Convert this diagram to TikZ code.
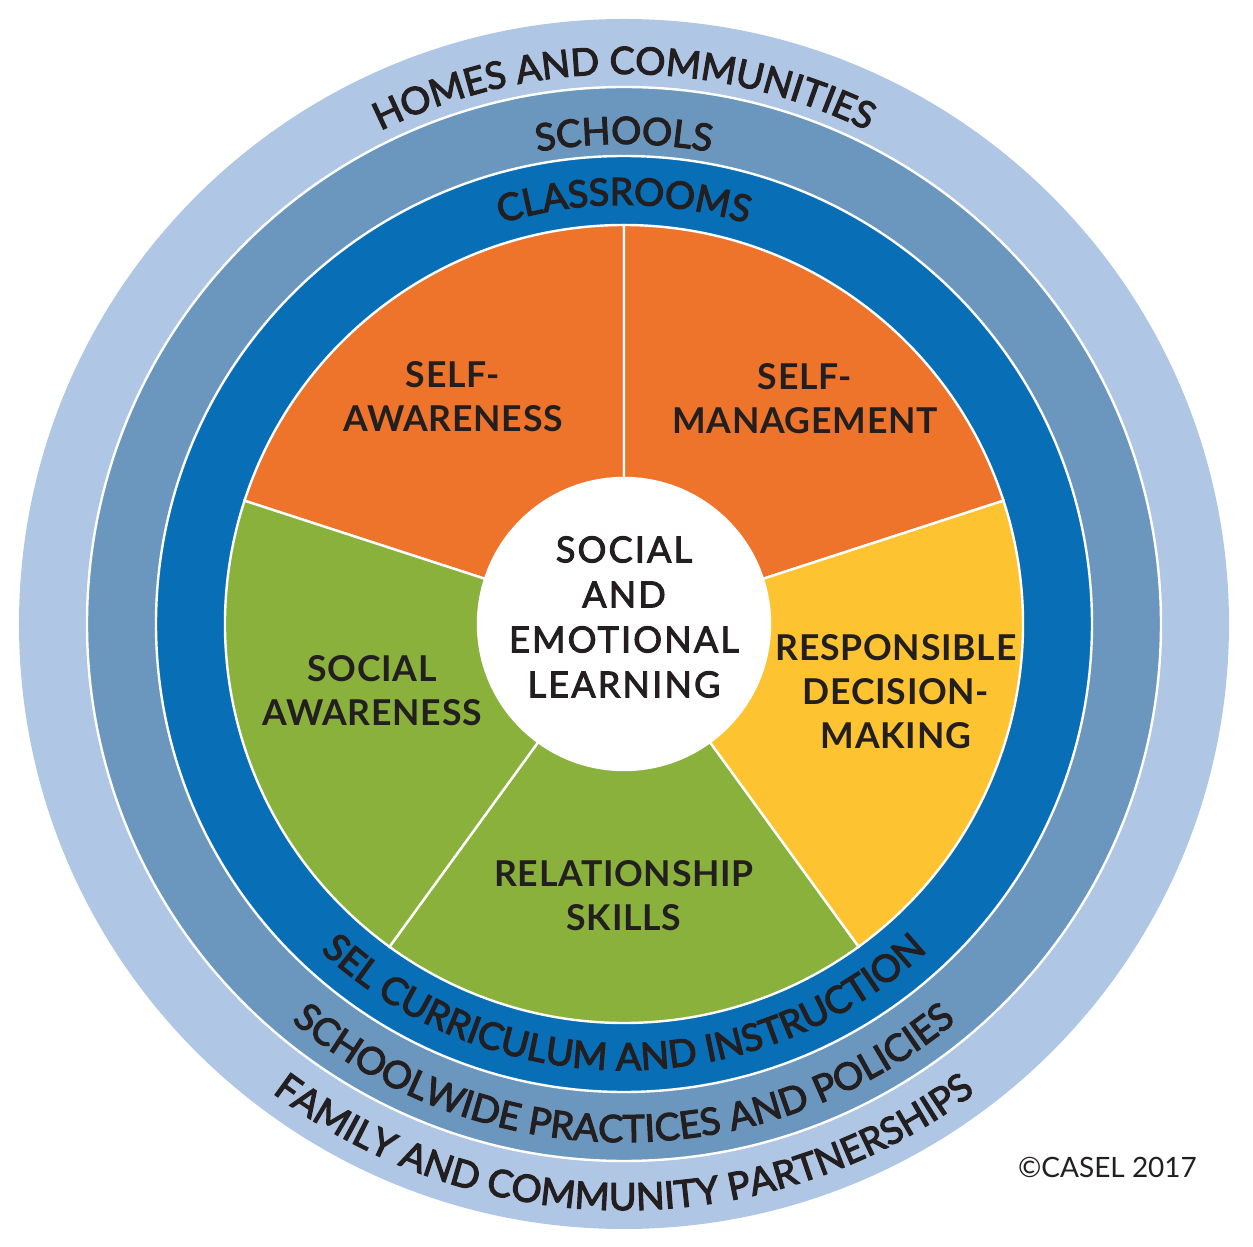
\documentclass[tikz,border=0pt]{standalone}
\usepackage{fontspec}
\setmainfont{Lato}
\newfontface\medface{Lato}[FakeBold=3]
\newfontface\midface{Lato}[FakeBold=2.6, LetterSpace=6]
\newfontface\boldface{Lato Bold}[LetterSpace=2]
\usetikzlibrary{decorations.text}
\definecolor{ringA}{HTML}{B0C6E5}
\definecolor{ringB}{HTML}{6B96BD}
\definecolor{ringC}{HTML}{086EB6}
\definecolor{orng}{HTML}{EE742C}
\definecolor{yell}{HTML}{FEC330}
\definecolor{grn}{HTML}{89B13C}
\definecolor{ink}{HTML}{231F20}
\newcommand\curvefont{\medface\fontsize{18.8}{18.8}\selectfont}
\tikzset{
  sep/.style={draw=white, line width=1.2pt},
  curvetext/.style={decorate, decoration={text along path, text align=center, text color=ink, text={|\curvefont|#1}}},
  slicelabel/.style={text=ink, align=center, font=\boldface\fontsize{17.8}{22}\selectfont},
  centerlabel/.style={text=ink, align=center, font=\midface\fontsize{18}{22.5}\selectfont},
}
\begin{document}
\begin{tikzpicture}[x=0.5pt, y=0.5pt]
\useasboundingbox (-624,-623) rectangle (629,624);
% rings
\fill[ringA] (0,0) circle[radius=605];
\filldraw[sep, fill=ringB] (0,0) circle[radius=537];
\filldraw[sep, fill=ringC] (0,0) circle[radius=468];
% slices
\filldraw[sep, fill=orng] (0,0) -- (90:399) arc[start angle=90, end angle=162, radius=399] -- cycle;
\filldraw[sep, fill=orng] (0,0) -- (18:399) arc[start angle=18, end angle=90, radius=399] -- cycle;
\filldraw[sep, fill=yell] (0,0) -- (-54:399) arc[start angle=-54, end angle=18, radius=399] -- cycle;
\filldraw[sep, fill=grn] (0,0) -- (-126:399) arc[start angle=-126, end angle=-54, radius=399] -- cycle;
\filldraw[sep, fill=grn] (0,0) -- (162:399) arc[start angle=162, end angle=234, radius=399] -- cycle;
% centre disc
\filldraw[sep, fill=white] (0,0) circle[radius=146];
% curved texts (top)
\path[curvetext={HOMES AND COMMUNITIES}] (170:550) arc[start angle=170, end angle=10, radius=550];
\path[curvetext={SCHOOLS}] (170:480) arc[start angle=170, end angle=10, radius=480];
\path[curvetext={CLASSROOMS}] (170:419) arc[start angle=170, end angle=10, radius=419];
% curved texts (bottom)
\path[curvetext={SEL CURRICULUM AND INSTRUCTION}] (200:446) arc[start angle=200, end angle=340, radius=446];
\path[curvetext={SCHOOLWIDE PRACTICES AND POLICIES}] (200:518) arc[start angle=200, end angle=340, radius=518];
\path[curvetext={FAMILY AND COMMUNITY PARTNERSHIPS}] (200:586) arc[start angle=200, end angle=340, radius=586];
% labels
\node[centerlabel] (sel) at (0,7) {SOCIAL\\AND\\EMOTIONAL\\LEARNING};
\node[slicelabel] (sa) at (-171,227) {SELF-\\AWARENESS};
\node[slicelabel] (sm) at (181,225) {SELF-\\MANAGEMENT};
\node[slicelabel] (soc) at (-252,-67) {SOCIAL\\AWARENESS};
\node[slicelabel] (rdm) at (272,-68) {RESPONSIBLE\\DECISION-\\MAKING};
\node[slicelabel] (rs) at (0,-272) {RELATIONSHIP\\SKILLS};
\node[text=ink, font=\fontsize{14}{14}\selectfont] (copy) at (483.5,-543) {©CASEL 2017};
\end{tikzpicture}
\end{document}
